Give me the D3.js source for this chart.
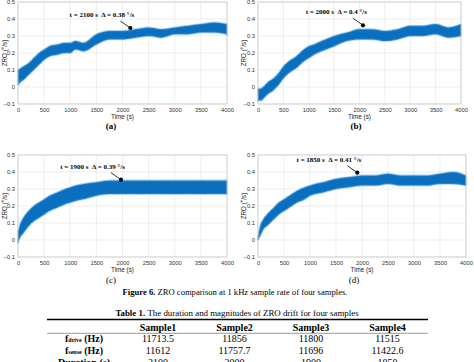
<!DOCTYPE html>
<html>
<head>
<meta charset="utf-8">
<script src="https://cdn.jsdelivr.net/npm/d3@7"></script>
<style>
  body { margin: 0; background: #fff; }
  svg { display: block; }
  text { white-space: pre; }
</style>
</head>
<body>
<div id="fig"></div>
<script>
var times = [0, 50, 100, 200, 300, 400, 500, 600, 750, 900, 1000, 1100, 1250, 1500, 1750, 2000, 2250, 2500, 2750, 3000, 3250, 3500, 3750, 4000];
var timeTicks = [0, 500, 1000, 1500, 2000, 2500, 3000, 3500, 4000];
var zroTicks = [-0.1, 0, 0.1, 0.2, 0.3, 0.4, 0.5];

// lower / upper edge of the blue band, deg/s
var sample1Low  = [0.01, 0.03, 0.04, 0.07, 0.10, 0.13, 0.16, 0.18, 0.19, 0.20, 0.20, 0.22, 0.21, 0.25, 0.28, 0.28, 0.29, 0.30, 0.29, 0.31, 0.31, 0.32, 0.32, 0.31];
var sample1High = [0.10, 0.11, 0.12, 0.14, 0.17, 0.20, 0.22, 0.24, 0.25, 0.26, 0.26, 0.27, 0.26, 0.31, 0.33, 0.33, 0.34, 0.35, 0.34, 0.35, 0.36, 0.37, 0.38, 0.37];
var sample2Low  = [-0.08, -0.08, -0.07, -0.04, -0.02, 0.01, 0.05, 0.08, 0.11, 0.15, 0.17, 0.19, 0.21, 0.24, 0.27, 0.28, 0.28, 0.27, 0.28, 0.30, 0.30, 0.31, 0.29, 0.30];
var sample2High = [-0.01, -0.01, 0.00, 0.03, 0.05, 0.08, 0.12, 0.15, 0.18, 0.22, 0.24, 0.25, 0.27, 0.30, 0.32, 0.34, 0.34, 0.33, 0.34, 0.36, 0.36, 0.37, 0.35, 0.37];
var sample3Low  = [-0.02, 0.02, 0.04, 0.08, 0.11, 0.13, 0.15, 0.17, 0.19, 0.21, 0.22, 0.23, 0.24, 0.26, 0.27, 0.27, 0.27, 0.27, 0.27, 0.27, 0.27, 0.27, 0.27, 0.27];
var sample3High = [0.05, 0.10, 0.13, 0.17, 0.20, 0.22, 0.24, 0.26, 0.28, 0.30, 0.31, 0.32, 0.33, 0.34, 0.35, 0.35, 0.35, 0.35, 0.35, 0.35, 0.35, 0.35, 0.35, 0.35];
var sample4Low  = [0.00, 0.03, 0.06, 0.09, 0.12, 0.15, 0.17, 0.19, 0.22, 0.24, 0.26, 0.27, 0.28, 0.30, 0.31, 0.32, 0.32, 0.33, 0.32, 0.32, 0.32, 0.33, 0.33, 0.32];
var sample4High = [0.02, 0.09, 0.12, 0.16, 0.19, 0.22, 0.24, 0.26, 0.29, 0.31, 0.32, 0.33, 0.34, 0.36, 0.37, 0.38, 0.38, 0.39, 0.38, 0.38, 0.38, 0.39, 0.40, 0.38];

var markTimes  = [2150, 2070, 1970, 1910];
var markValues = [0.347, 0.363, 0.355, 0.396];
var markLabels = ["t = 2100 s  \u0394 = 0.38 \u00b0/s", "t = 2000 s  \u0394 = 0.4 \u00b0/s", "t = 1900 s  \u0394 = 0.39 \u00b0/s", "t = 1850 s  \u0394 = 0.41 \u00b0/s"];
var panelNames = ["(a)", "(b)", "(c)", "(d)"];

var sampleNames = ["Sample1", "Sample2", "Sample3", "Sample4"];
var fDrive = ["11713.5", "11856", "11800", "11515"];
var fSense = ["11612", "11757.7", "11696", "11422.6"];
var durations = ["2100", "2000", "1900", "1850"];

var lows = [sample1Low, sample2Low, sample3Low, sample4Low];
var highs = [sample1High, sample2High, sample3High, sample4High];

var layout = [
  {x0: 18,  x1: 227, y0: 2,   y1: 104, ylab: 5,   lx: 111, ly: 129, bold: true},
  {x0: 258, x1: 461, y0: 2,   y1: 104, ylab: 244, lx: 356, ly: 129, bold: true},
  {x0: 18,  x1: 227, y0: 155, y1: 257, ylab: 5,   lx: 111, ly: 283, bold: false},
  {x0: 258, x1: 466, y0: 155, y1: 257, ylab: 244, lx: 354, ly: 283, bold: false}
];

var svg = d3.select("#fig").append("svg")
  .attr("width", 474)
  .attr("height", 362);

var sans = "Liberation Sans, Arial, sans-serif";
var serif = "Liberation Serif, Times New Roman, serif";

layout.forEach(function(p, i) {
  var x = d3.scaleLinear().domain([0, 4000]).range([p.x0, p.x1]);
  var y = d3.scaleLinear().domain([-0.1, 0.5]).range([p.y1, p.y0]);
  var g = svg.append("g");

  // grid
  g.selectAll(".gx").data(timeTicks).enter().append("line")
    .attr("x1", d => x(d)).attr("x2", d => x(d))
    .attr("y1", p.y0).attr("y2", p.y1)
    .attr("stroke", "#e2e2e2").attr("stroke-width", 0.6);
  g.selectAll(".gy").data(zroTicks).enter().append("line")
    .attr("x1", p.x0).attr("x2", p.x1)
    .attr("y1", d => y(d)).attr("y2", d => y(d))
    .attr("stroke", "#e2e2e2").attr("stroke-width", 0.6);

  // band
  var rows = times.map((t, k) => ({t: t, lo: lows[i][k], hi: highs[i][k]}));
  var area = d3.area()
    .x(d => x(d.t)).y0(d => y(d.lo)).y1(d => y(d.hi))
    .curve(d3.curveMonotoneX);
  g.append("path").datum(rows)
    .attr("d", area)
    .attr("fill", "#0a6fbf")
    .attr("stroke", "#4a9ddc")
    .attr("stroke-width", 1.8)
    .attr("stroke-dasharray", "0.5,0.6");

  // axes box
  g.append("rect")
    .attr("x", p.x0).attr("y", p.y0)
    .attr("width", p.x1 - p.x0).attr("height", p.y1 - p.y0)
    .attr("fill", "none").attr("stroke", "#c4c4c4").attr("stroke-width", 0.7);

  var xAxis = g.append("g")
    .attr("transform", `translate(0,${p.y1})`)
    .call(d3.axisBottom(x).tickValues(timeTicks).tickSize(0).tickPadding(4).tickFormat(d3.format("d")));
  var yAxis = g.append("g")
    .attr("transform", `translate(${p.x0},0)`)
    .call(d3.axisLeft(y).tickValues(zroTicks).tickSize(0).tickPadding(3).tickFormat(d => d === 0 ? "0" : d3.format(".1f")(d)));
  [xAxis, yAxis].forEach(function(a) {
    a.select(".domain").remove();
    a.selectAll("text").attr("font-family", sans).attr("font-size", 5.8).attr("fill", "#333");
  });

  g.append("text")
    .attr("x", (p.x0 + p.x1) / 2).attr("y", p.y1 + 15)
    .attr("text-anchor", "middle")
    .attr("font-family", sans).attr("font-size", 6.3).attr("fill", "#222")
    .text("Time (s)");
  g.append("text")
    .attr("transform", `translate(${p.ylab},${(p.y0 + p.y1) / 2}) rotate(-90)`)
    .attr("text-anchor", "middle").attr("dy", "0.35em")
    .attr("font-family", sans).attr("font-size", 6.3).attr("fill", "#222")
    .text("ZRO (\u00b0/s)");

  // annotation
  var mx = x(markTimes[i]), my = y(markValues[i]);
  g.append("line")
    .attr("x1", mx - 10).attr("y1", my - 7)
    .attr("x2", mx).attr("y2", my)
    .attr("stroke", "#000").attr("stroke-width", 0.8);
  g.append("circle")
    .attr("cx", mx).attr("cy", my).attr("r", 2.1)
    .attr("fill", "#000");
  g.append("text")
    .attr("x", mx + 4).attr("y", my - 11)
    .attr("text-anchor", "end")
    .attr("font-family", serif).attr("font-size", 7).attr("font-weight", "bold")
    .text(markLabels[i]);

  svg.append("text")
    .attr("x", p.lx).attr("y", p.ly)
    .attr("text-anchor", "middle")
    .attr("font-family", serif).attr("font-size", 9)
    .attr("font-weight", p.bold ? "bold" : "normal")
    .text(panelNames[i]);
});

// caption
var cap = svg.append("text")
  .attr("x", 235).attr("y", 295)
  .attr("text-anchor", "middle")
  .attr("font-family", serif).attr("font-size", 8.6);
cap.append("tspan").attr("font-weight", "bold").text("Figure 6. ");
cap.append("tspan").text("ZRO comparison at 1 kHz sample rate of four samples.");

// table
var tcap = svg.append("text")
  .attr("x", 237).attr("y", 316)
  .attr("text-anchor", "middle")
  .attr("font-family", serif).attr("font-size", 8.9);
tcap.append("tspan").attr("font-weight", "bold").text("Table 1. ");
tcap.append("tspan").text("The duration and magnitudes of ZRO drift for four samples");

svg.append("line").attr("x1", 47).attr("x2", 428).attr("y1", 319.5).attr("y2", 319.5)
  .attr("stroke", "#000").attr("stroke-width", 1.6);
svg.append("line").attr("x1", 47).attr("x2", 428).attr("y1", 333.3).attr("y2", 333.3)
  .attr("stroke", "#555").attr("stroke-width", 0.6);

var colX = d3.scalePoint().domain(sampleNames).range([158, 387.5]);

svg.selectAll(".hd").data(sampleNames).enter().append("text")
  .attr("x", d => colX(d)).attr("y", 330.5)
  .attr("text-anchor", "middle")
  .attr("font-family", serif).attr("font-size", 10).attr("font-weight", "bold")
  .text(d => d);

var tableRows = [
  {name: "f", sub: "drive", unit: " (Hz)", vals: fDrive, y: 342},
  {name: "f", sub: "sense", unit: " (Hz)", vals: fSense, y: 353.8},
  {name: "Duration", sub: "", unit: " (s)", vals: durations, y: 365.5}
];
tableRows.forEach(function(r) {
  var t = svg.append("text")
    .attr("x", 84).attr("y", r.y)
    .attr("text-anchor", "middle")
    .attr("font-family", serif).attr("font-size", 10).attr("font-weight", "bold");
  t.append("tspan").text(r.name);
  if (r.sub) t.append("tspan").attr("font-size", 6).text(r.sub);
  t.append("tspan").text(r.unit);
  svg.selectAll(null).data(r.vals).enter().append("text")
    .attr("x", (d, k) => colX(sampleNames[k])).attr("y", r.y)
    .attr("text-anchor", "middle")
    .attr("font-family", serif).attr("font-size", 10)
    .text(d => d);
});
</script>
</body>
</html>
